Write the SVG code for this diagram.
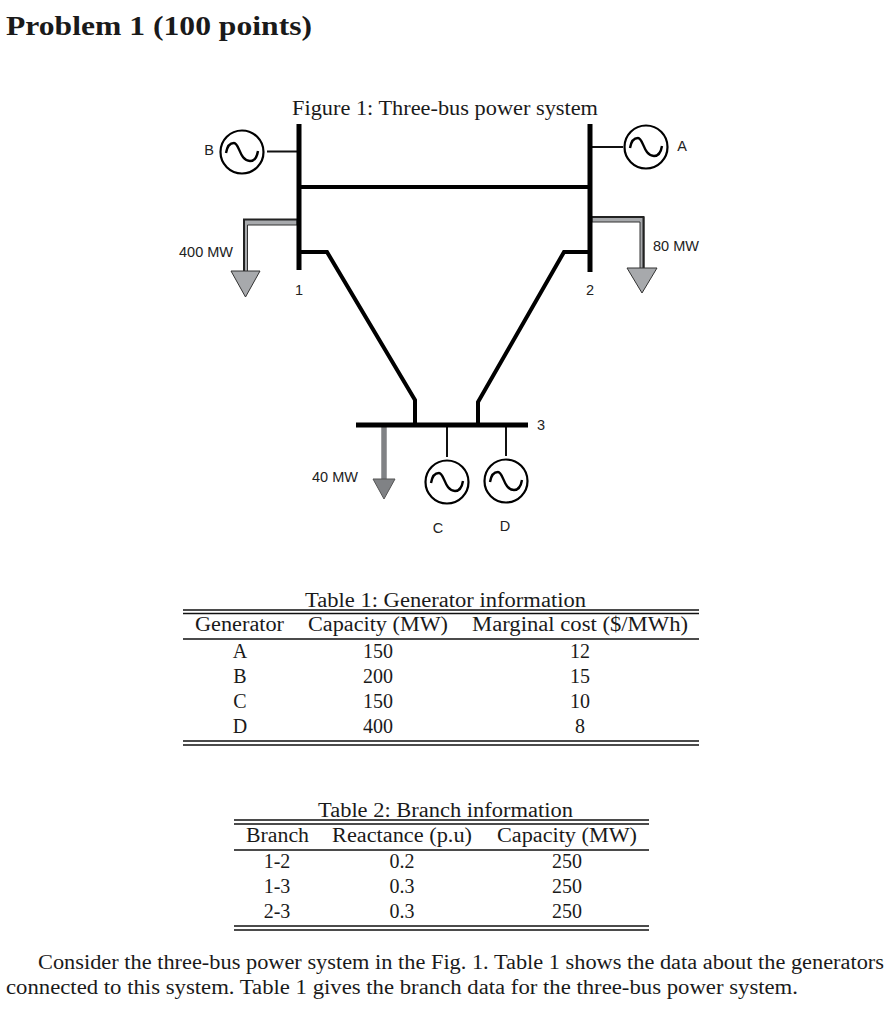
<svg xmlns="http://www.w3.org/2000/svg" width="893" height="1015" viewBox="0 0 893 1015">
<defs>
<style>
.t{font-family:"Liberation Serif","Times New Roman",serif;font-size:20px;fill:#1a1a1a;}
.c{text-anchor:middle;}
.h{font-family:"Liberation Serif","Times New Roman",serif;font-size:27px;font-weight:bold;fill:#1a1a1a;}
.l{font-family:"Liberation Sans",Arial,sans-serif;font-size:14.500px;fill:#222;}
.bus{stroke:#000;stroke-width:5;fill:none;}
.line{stroke:#000;stroke-width:4;fill:none;}
.thin{stroke:#111;stroke-width:2;fill:none;}
.rule{stroke:#111;stroke-width:1.4;}
.gc{fill:#fff;stroke:#000;stroke-width:2.2;}
.gw{fill:none;stroke:#000;stroke-width:2.4;}
.shaft{fill:#a7a9ac;stroke:#333;stroke-width:1;}
.edge{fill:none;stroke:#222;stroke-width:2;}
</style>
<g id="sine"><circle class="gc" r="21.5"/><path class="gw" d="M-16,1C-15,-5 -12,-9 -8,-9C-2.500,-9 -2.500,9 8,9C12,9 15,5 16,-1"/></g>
</defs>
<rect width="893" height="1015" fill="#fff"/>
<text class="h" x="6" y="35" textLength="306" lengthAdjust="spacingAndGlyphs">Problem 1 (100 points)</text>
<text class="t" x="292" y="115" textLength="306" lengthAdjust="spacingAndGlyphs">Figure 1: Three-bus power system</text>
<g id="connectors">
<path class="line" d="M299,187H590"/>
<path class="line" d="M299,252H327L415,400V425"/>
<path class="line" d="M590,252H564L478,402V425"/>
<path class="thin" d="M267,151.500H299"/>
<path class="thin" d="M590,147H623"/>
<path class="thin" d="M447,425V457"/>
<path class="thin" d="M506,425V456"/>
<path class="shaft" d="M297,219.500H244V272H247.500V225H297Z"/>
<path class="edge" d="M297,219.500H244V272"/>
<path class="shaft" d="M592,217H644V269H640V222H592Z"/>
<path class="edge" d="M592,217H643.500V269"/>
<path d="M384,427V480" fill="none" stroke="#808285" stroke-width="5.500"/>
</g>
<g id="bus-1"><path class="bus" d="M299,124V270"/><text class="l c" x="299" y="295">1</text></g>
<g id="bus-2"><path class="bus" d="M590,124V272"/><text class="l c" x="590" y="295">2</text></g>
<g id="bus-3"><path class="bus" d="M356,425H528"/><text class="l c" x="541" y="430">3</text></g>
<g id="gen-B"><use href="#sine" x="242" y="152"/><text class="l c" x="209" y="155">B</text></g>
<g id="gen-A"><use href="#sine" x="646" y="147"/><text class="l c" x="682" y="151">A</text></g>
<g id="gen-C"><use href="#sine" x="447" y="482"/><text class="l c" x="438" y="533">C</text></g>
<g id="gen-D"><use href="#sine" x="506" y="481"/><text class="l c" x="505" y="531">D</text></g>
<g id="load-1"><path d="M231,271H260L245.500,297Z" fill="#a7a9ac" stroke="#333"/><text class="l" x="179" y="257">400 MW</text></g>
<g id="load-2"><path d="M627,268H657L642,293Z" fill="#a7a9ac" stroke="#333"/><text class="l" x="653" y="251">80 MW</text></g>
<g id="load-3"><path d="M373,479H395L384,499Z" fill="#808285" stroke="#555"/><text class="l" x="312" y="482">40 MW</text></g>

<text class="t" x="305" y="607" textLength="281" lengthAdjust="spacingAndGlyphs">Table 1: Generator information</text>
<path class="rule" d="M183,610H699M183,613.500H699M183,639H699M183,741H699M183,745H699"/>
<text class="t" x="195" y="631" textLength="89" lengthAdjust="spacingAndGlyphs">Generator</text>
<text class="t" x="308" y="631" textLength="140" lengthAdjust="spacingAndGlyphs">Capacity (MW)</text>
<text class="t" x="472" y="631" textLength="216" lengthAdjust="spacingAndGlyphs">Marginal cost ($/MWh)</text>
<text class="t c" x="240" y="658">A</text><text class="t c" x="378" y="658">150</text><text class="t c" x="580" y="658">12</text>
<text class="t c" x="240" y="683">B</text><text class="t c" x="378" y="683">200</text><text class="t c" x="580" y="683">15</text>
<text class="t c" x="240" y="708">C</text><text class="t c" x="378" y="708">150</text><text class="t c" x="580" y="708">10</text>
<text class="t c" x="240" y="733">D</text><text class="t c" x="378" y="733">400</text><text class="t c" x="580" y="733">8</text>

<text class="t" x="318" y="817" textLength="255" lengthAdjust="spacingAndGlyphs">Table 2: Branch information</text>
<path class="rule" d="M234,820H649M234,824H649M234,850H649M234,926H649M234,930H649"/>
<text class="t" x="246" y="842" textLength="63" lengthAdjust="spacingAndGlyphs">Branch</text>
<text class="t" x="332" y="842" textLength="140" lengthAdjust="spacingAndGlyphs">Reactance (p.u)</text>
<text class="t" x="497" y="842" textLength="140" lengthAdjust="spacingAndGlyphs">Capacity (MW)</text>
<text class="t c" x="277" y="868">1-2</text><text class="t c" x="402" y="868">0.2</text><text class="t c" x="567" y="868">250</text>
<text class="t c" x="277" y="893">1-3</text><text class="t c" x="402" y="893">0.3</text><text class="t c" x="567" y="893">250</text>
<text class="t c" x="277" y="918">2-3</text><text class="t c" x="402" y="918">0.3</text><text class="t c" x="567" y="918">250</text>

<text class="t" x="38" y="969" textLength="846" lengthAdjust="spacingAndGlyphs">Consider the three-bus power system in the Fig. 1. Table 1 shows the data about the generators</text>
<text class="t" x="6" y="994" textLength="792" lengthAdjust="spacingAndGlyphs">connected to this system. Table 1 gives the branch data for the three-bus power system.</text>
</svg>
